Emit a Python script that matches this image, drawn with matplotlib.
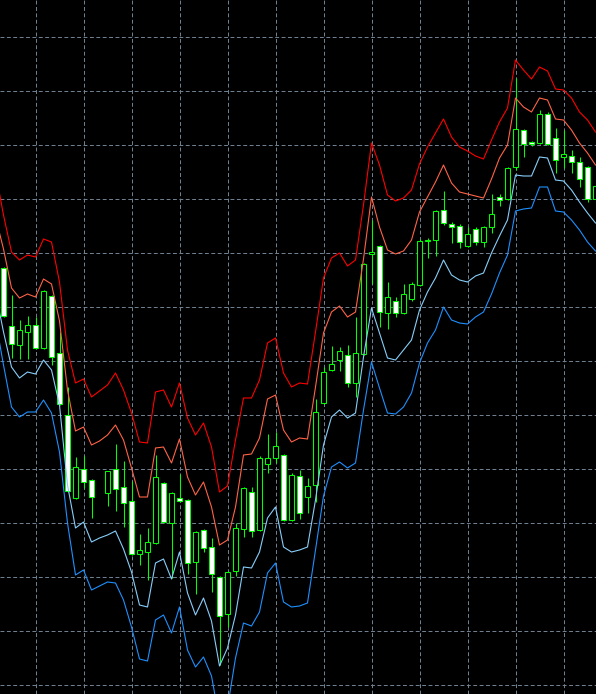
import numpy as np
import matplotlib
matplotlib.use("Agg")
import matplotlib.pyplot as plt

nan = np.nan

# ---- candle data (price units), bar index 0..74 ----
opens = [432, 374, 355, 368, 375, 352, 404, 347, 285, 202, 231, 220, nan, 207, 231,
         213, 199, 146, 148, 157, 217, 177, 202, 200, 138, 170, 153, 123, 86, 129,
         171, 208, 170, 236, 242, 245, 180, 224, 203, 215, 297, 330, 340, 345, 317,
         346, 446, 454, 387, 399, 387, 401, 415, 459, 460, 490, 476, 474, 454, 471,
         458, 473, 503, 501, 533, 570, 558, 557, 586, 562, 543, 544, 538, 533, 501]
highs = [433, 405, 380, 384, 383, 410, 405, 368, 313, 243, 244, 221, nan, 229, 256,
         239, 219, 166, 172, 245, 218, 208, 226, 201, 169, 171, 162, 124, 129, 177,
         213, 213, 244, 266, 268, 246, 227, 230, 222, 301, 333, 354, 353, 355, 383,
         437, 480, 455, 418, 403, 416, 418, 461, 462, 490, 509, 478, 476, 473, 473,
         474, 506, 506, 533, 622, 571, 559, 590, 588, 572, 570, 550, 543, 534, 520]
lows = [383, 342, 341, 341, 351, 351, 335, 295, 208, 201, 212, 182, nan, 194, 189,
        173, 145, 135, 120, 156, 177, 122, 198, 126, 106, 148, 108, 35, 73, 124,
        163, 163, 169, 227, 237, 179, 179, 181, 187, 198, 296, 329, 329, 313, 303,
        345, 416, 373, 371, 383, 386, 399, 414, 442, 444, 475, 457, 452, 453, 455,
        453, 467, 494, 500, 530, 543, 554, 556, 555, 527, 532, 527, 513, 498, 490]
closes = [384, 356, 370, 375, 352, 409, 343, 296, 209, 233, 218, 203, nan, 229, 211,
          197, 146, 150, 158, 223, 178, 207, 199, 137, 168, 152, 126, 84, 128, 172,
          212, 169, 242, 242, 254, 180, 225, 187, 214, 288, 328, 336, 349, 317, 347,
          436, 448, 388, 403, 387, 406, 416, 459, 460, 489, 477, 473, 458, 466, 458,
          473, 486, 500, 532, 571, 556, 556, 586, 556, 540, 546, 538, 521, 501, 514]

# ---- band lines, bar index -1..74 ----
upper_outer = [528, 485, 448, 440, 445, 443, 461, 458, 418, 350, 317, 321, 303, 309, 315,
               327, 310, 287, 258, 257, 308, 310, 293, 317, 282, 265, 277, 253, 208, 214,
               260, 302, 302, 320, 357, 362, 327, 313, 317, 316, 368, 422, 442, 447, 434,
               440, 495, 557, 535, 505, 499, 502, 510, 536, 553, 567, 581, 563, 553, 549,
               544, 541, 560, 578, 592, 640, 630, 621, 633, 629, 611, 610, 602, 588, 580, 568]
upper_inner = [483, 451, 412, 402, 406, 403, 421, 416, 379, 310, 269, 273, 255, 259, 265,
               275, 260, 232, 203, 203, 252, 253, 237, 261, 223, 205, 218, 193, 155, 160,
               193, 245, 246, 262, 301, 305, 270, 258, 262, 261, 313, 367, 388, 394, 383,
               388, 441, 503, 473, 450, 446, 449, 460, 488, 503, 518, 535, 517, 508, 506,
               504, 502, 521, 542, 555, 602, 593, 588, 602, 600, 581, 580, 570, 557, 547, 535]
lower_inner = [408, 368, 333, 322, 328, 326, 340, 330, 295, 215, 172, 178, 158, 162, 165,
               169, 151, 128, 95, 93, 137, 141, 121, 148, 107, 85, 102, 79, 34, 52,
               85, 133, 132, 148, 182, 193, 153, 148, 150, 153, 200, 255, 283, 290, 282,
               287, 343, 392, 367, 342, 340, 350, 360, 390, 408, 422, 440, 425, 420, 418,
               424, 427, 447, 464, 480, 525, 524, 524, 543, 542, 520, 519, 510, 498, 487, 477]
lower_outer = [380, 335, 293, 283, 288, 288, 300, 287, 248, 177, 125, 130, 110, 114, 118,
               117, 100, 73, 41, 39, 80, 85, 67, 93, 50, 33, 43, 24, -20, -8,
               42, 77, 74, 88, 127, 137, 98, 93, 94, 97, 150, 204, 233, 238, 232,
               237, 290, 338, 312, 287, 286, 293, 307, 337, 357, 370, 393, 380, 377, 376,
               383, 388, 406, 427, 445, 489, 491, 492, 513, 513, 489, 488, 480, 470, 458, 449]

plt.rcParams['lines.scale_dashes'] = False

fig = plt.figure(figsize=(5.96, 6.94), dpi=100, facecolor='black')
ax = fig.add_axes([0, 0, 1, 1], facecolor='black')

# grid
ax.set_xticks(np.arange(4, 75, 6))
ax.set_yticks(np.arange(663, 0, -54))
ax.grid(True, color='#6f7f90', linestyle=(0, (2.8, 1.8)), linewidth=0.72)
ax.tick_params(left=False, bottom=False, labelleft=False, labelbottom=False)
for s in ax.spines.values():
    s.set_visible(False)
ax.set_axisbelow(True)

o = np.array(opens, float)
h = np.array(highs, float)
l = np.array(lows, float)
c = np.array(closes, float)
idx = np.arange(len(o))
ok = ~np.isnan(o)

# wicks
ax.vlines(idx[ok], l[ok], h[ok], color='#00ff00', linewidth=0.75, zorder=2)
# bodies
bear = ok & (c < o)
bull = ok & (c >= o)
body_lo = np.minimum(o, c)
body_h = np.maximum(np.abs(c - o), 0.8)
ax.bar(idx[bear], body_h[bear], bottom=body_lo[bear], width=0.52,
       color='white', edgecolor='#00ff00', linewidth=0.75, zorder=3)
ax.bar(idx[bull], body_h[bull], bottom=body_lo[bull], width=0.52,
       color='black', edgecolor='#00ff00', linewidth=0.75, zorder=3)

# bands
xb = np.arange(-1, 75)
ax.plot(xb, upper_outer, color='#ff0000', linewidth=0.8, zorder=4)
ax.plot(xb, upper_inner, color='#ff6347', linewidth=0.8, zorder=4)
ax.plot(xb, lower_inner, color='#87cefa', linewidth=0.8, zorder=4)
ax.plot(xb, lower_outer, color='#1e90ff', linewidth=0.8, zorder=4)

ax.set_xlim(-0.4375, -0.4375 + 596 / 8)
ax.set_ylim(6, 700)

fig.savefig('out.png', dpi=100, facecolor='black')
